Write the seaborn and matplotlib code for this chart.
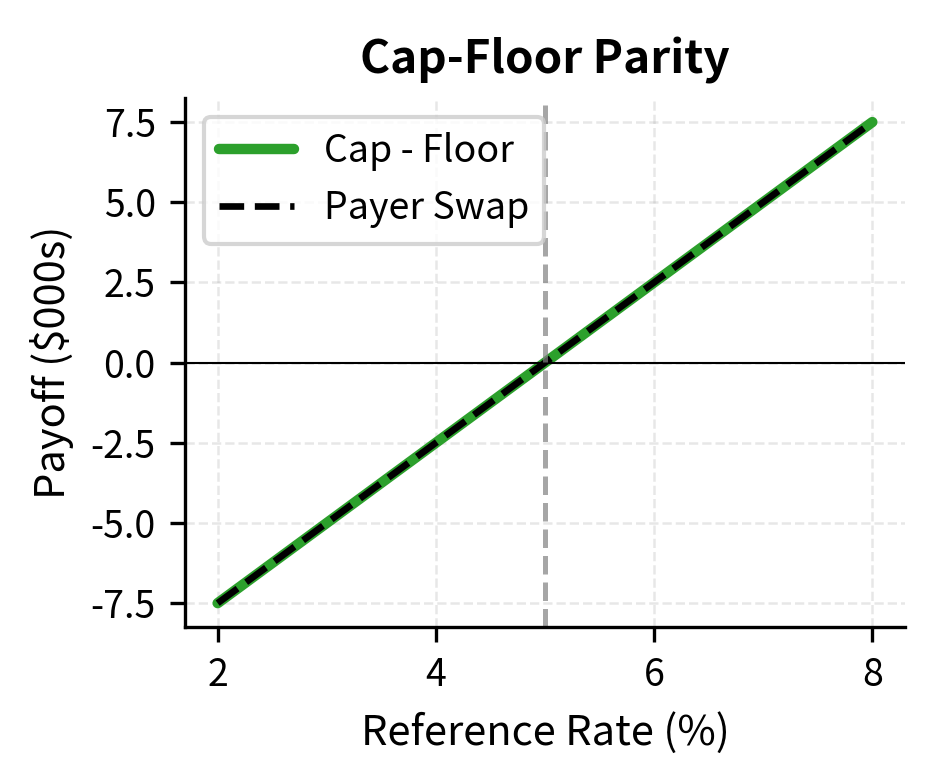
import matplotlib
matplotlib.use("Agg")
import matplotlib.pyplot as plt
import seaborn as sns
import pandas as pd

rates = [2, 3, 4, 5, 6, 7, 8]
cap_minus_floor = [-7.5, -5.0, -2.5, 0.0, 2.5, 5.0, 7.5]
payer_swap = [-7.5, -5.0, -2.5, 0.0, 2.5, 5.0, 7.5]
strike = 5
yticks = [-7.5, -5.0, -2.5, 0.0, 2.5, 5.0, 7.5]

sns.set_style("ticks", {"axes.edgecolor": "black", "text.color": "black",
                        "axes.labelcolor": "black", "xtick.color": "black",
                        "ytick.color": "black", "grid.color": "#b0b0b0"})
plt.rcParams['font.family'] = ['Noto Sans CJK SC', 'DejaVu Sans']
plt.rcParams['axes.unicode_minus'] = False

df = pd.DataFrame({"rate": rates, "cf": cap_minus_floor, "swap": payer_swap})

fig, ax = plt.subplots(figsize=(934/300, 784/300), dpi=300)
sns.lineplot(data=df, x="rate", y="cf", ax=ax, color="#2ca02c", lw=2.5, label="Cap - Floor")
sns.lineplot(data=df, x="rate", y="swap", ax=ax, color="black", lw=1.6, ls="--", label="Payer Swap")
ax.axhline(0, color="black", lw=0.5)
ax.axvline(strike, color="gray", ls="--", lw=1.2, alpha=0.7)
ax.grid(True, ls="--", alpha=0.3, lw=0.6, color="#b0b0b0")
ax.set_yticks(yticks)
ax.set_xticks([2, 4, 6, 8])
ax.set_title("Cap-Floor Parity", fontsize=11, fontweight="bold", color="black")
ax.set_xlabel("Reference Rate (%)", fontsize=10, color="black")
ax.set_ylabel("Payoff ($000s)", fontsize=10, color="black")
ax.tick_params(labelsize=9, width=0.8, length=3.5, colors="black")
for s in ["left", "bottom"]:
    ax.spines[s].set_linewidth(0.8)
    ax.spines[s].set_color("black")
sns.despine(ax=ax)
leg = ax.legend(loc="upper left", fontsize=9)
for t in leg.get_texts():
    t.set_color("black")
fig.subplots_adjust(left=0.198, right=0.969, bottom=0.2, top=0.875)
fig.savefig("out.png", dpi=300)
